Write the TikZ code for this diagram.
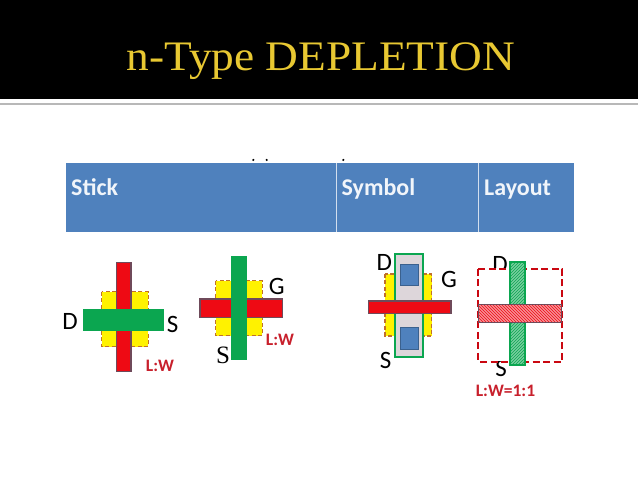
\documentclass[tikz,border=0pt]{standalone}
\usepackage{fontspec}
\setmainfont{Carlito}
\newfontfamily\titlefont[FakeStretch=1.08]{Liberation Serif}
\newfontfamily\serifl{Liberation Serif}
\usetikzlibrary{patterns}
\definecolor{hdr}{HTML}{4F81BD}
\definecolor{gold}{HTML}{E8C832}
\definecolor{rd}{HTML}{EE0A14}
\definecolor{gr}{HTML}{0BA650}
\definecolor{yl}{HTML}{FFF200}
\definecolor{edge}{HTML}{6F4A5A}
\definecolor{dash}{HTML}{C0702A}
\definecolor{lbl}{HTML}{C8202C}
\definecolor{cellg}{HTML}{DDD6DA}
\tikzset{
  x=1pt,y=-1pt,
  hdrbox/.style={fill=hdr,draw=none},
  hdrtext/.style={anchor=base west,text=white!92!hdr,font=\bfseries\fontsize{24}{24}\selectfont,inner sep=0pt},
  diff/.style={fill=yl,draw=dash,line width=1.4pt,dash pattern=on 4pt off 2.5pt},
  polyg/.style={fill=rd,draw=edge,line width=1.2pt},
  act/.style={fill=gr,draw=none},
  term/.style={text=black,font=\fontsize{25}{25}\selectfont,inner sep=0pt},
  ratio/.style={text=lbl,font=\bfseries\fontsize{17.5}{17.5}\selectfont,inner sep=0pt},
}
\begin{document}
\begin{tikzpicture}
\useasboundingbox (0,0) rectangle (638,478);
\fill[white] (0,0) rectangle (638,478);
% title band
\fill[black] (0,0) rectangle (638,99.5);
\fill[black!28] (0,102.7) rectangle (638,104.7);
\node[text=gold,font=\titlefont\fontsize{42}{42}\selectfont,inner sep=0pt,anchor=base] (title) at (321,71) {n-Type DEPLETION};
% header
\fill[hdrbox] (66,162.7) rectangle (574.3,232);
\draw[white!75!hdr,line width=1pt] (336,162.7) -- (336,232);
\draw[white!75!hdr,line width=1pt] (478,162.7) -- (478,232);
\node[hdrtext] (h1) at (71,195.5) {Stick};
\node[hdrtext] (h2) at (341.5,195.5) {Symbol};
\node[hdrtext] (h3) at (484,195.5) {Layout};
\foreach \px in {253.3,266.7,343.3} \fill[black] (\px,160) circle (1.2pt);
% stick 1
\draw[diff] (101.7,291.7) rectangle (148.3,346.7);
\draw[polyg] (116.7,262.7) rectangle (131,371.7);
\fill[act] (83.3,309.3) rectangle (164,330.7);
\node[term] (d1) at (70,321.5) {D};
\node[term] (s1) at (172.5,324) {S};
\node[ratio] (r1) at (160,366) {L:W};
% stick 2
\draw[diff] (215.7,280.7) rectangle (262.3,335.7);
\draw[polyg] (200,299) rectangle (282.7,317.7);
\fill[act] (231.3,256) rectangle (247.3,360);
\node[term] (g2) at (276.7,286.5) {G};
\node[term,font=\serifl\fontsize{25}{25}\selectfont] (s2) at (223,355) {S};
\node[ratio] (r2) at (280,340) {L:W};
% symbol
\draw[diff] (385,274) rectangle (431.7,336);
\draw[draw=gr,fill=cellg,line width=2pt] (395,254) rectangle (423.3,357.3);
\fill[hdr,draw=black!25!hdr] (400,264) rectangle (418.3,285);
\fill[hdr,draw=black!25!hdr] (400,327.3) rectangle (418.3,349);
\draw[polyg] (368.3,301) rectangle (451,313.3);
\node[term] (d3) at (384.3,262.5) {D};
\node[term] (g3) at (449,279.3) {G};
\node[term] (s3) at (385.7,360.7) {S};
% layout: the frame cuts the D and the S
\begin{scope}
\clip (480,250) rectangle (510,268);
\node[term] (d4) at (500,264) {D};
\end{scope}
\begin{scope}
\clip (480,362) rectangle (510,380);
\node[term] (s4) at (501,368) {S};
\end{scope}
\draw[draw=rd!85!black,line width=2.2pt,dash pattern=on 7pt off 3.5pt] (478.3,269) rectangle (562.3,361.7);
\fill[gr!55!white] (510,261.7) rectangle (525,365);
\fill[pattern=north east lines,pattern color=gr] (510,261.7) rectangle (525,365);
\draw[gr,line width=1.8pt] (510,261.7) rectangle (525,365);
\fill[rd!45!white] (478.3,304.3) rectangle (561.7,322.7);
\fill[pattern=north west lines,pattern color=rd] (478.3,304.3) rectangle (561.7,322.7);
\draw[edge,line width=1.2pt] (478.3,304.3) rectangle (561.7,322.7);
\node[ratio] (r4) at (505.5,390.7) {L:W=1:1};
\end{tikzpicture}
\end{document}
